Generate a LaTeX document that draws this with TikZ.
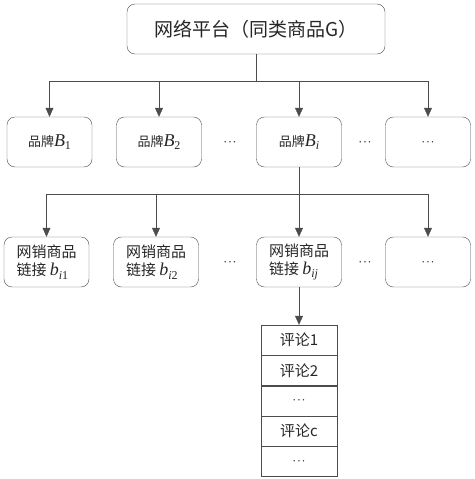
\documentclass[tikz,border=0pt]{standalone}
\usepackage{fontspec}
\setmainfont{Noto Sans CJK SC}
\newfontfamily\symfont{Liberation Serif}
\usetikzlibrary{arrows.meta,positioning}
\newcommand{\mth}[2]{{\symfont\fontsize{18}{20}\selectfont\itshape #1\raisebox{-3.5pt}{\fontsize{12}{14}\selectfont\upshape #2}}}
\newcommand{\dts}{{\fontsize{9}{11}\selectfont\boldmath$\cdots$}}
\begin{document}
\begin{tikzpicture}[x=1pt,y=-1pt,
        box/.style={draw=black!70,rounded corners=8pt,minimum width=85pt,minimum height=50pt,inner sep=2pt,text=black!85},
        arr/.style={draw=black!70,-{Triangle[length=9pt,width=8pt]}},
        cell/.style={draw=black!70,minimum width=76pt,minimum height=30pt,inner sep=0pt,text=black!85,font=\fontsize{15}{17}\selectfont},
        dots/.style={text=black!90}]
        \useasboundingbox (0,0) rectangle (474,479);
        % top
        \node[box,minimum width=258pt,font=\fontsize{19}{22}\selectfont] (net) at (256,29) {网络平台（同类商品G）};
        % brands
        \node[box,font=\fontsize{13}{15}\selectfont] (b1) at (49.5,142) {品牌\mth{B}{1}};
        \node[box,font=\fontsize{13}{15}\selectfont] (b2) at (159,142) {品牌\mth{B}{2}};
        \node[box,font=\fontsize{13}{15}\selectfont] (bi) at (299,142) {品牌\mth{B}{\itshape i}};
        \node[box] (bx) at (428,142) {\dts};
        \node[dots] at (230,142) {\dts};
        \node[dots] at (365,142) {\dts};
        % links
        \node[box,align=left,font=\fontsize{15}{18}\selectfont] (l1) at (46.5,262) {网销商品\\链接 \mth{b}{\textit{i}1}};
        \node[box,align=left,font=\fontsize{15}{18}\selectfont] (l2) at (156,262) {网销商品\\链接 \mth{b}{\textit{i}2}};
        \node[box,align=left,font=\fontsize{15}{18}\selectfont] (lj) at (299,262) {网销商品\\链接 \mth{b}{\textit{ij}}};
        \node[box] (lx) at (428,262) {\dts};
        \node[dots] at (230,262) {\dts};
        \node[dots] at (365,262) {\dts};
        % comments
        \node[cell] (c1) at (299,340) {评论1};
        \node[cell,below=0pt of c1] (c2) {评论2};
        \node[cell,below=0pt of c2] (c3) {\dts};
        \node[cell,below=0pt of c3] (c4) {评论c};
        \node[cell,below=0pt of c4] (c5) {\dts};
        % connectors
        \coordinate (j1) at (net.south |- 0,81);
        \draw[draw=black!70] (net.south) -- (j1);
        \foreach \n in {b1,b2,bi,bx}
          \draw[arr] (j1) -| (\n.north);
        \coordinate (j2) at (bi.south |- 0,194);
        \draw[draw=black!70] (bi.south) -- (j2);
        \foreach \n in {l1,l2,lj,lx}
          \draw[arr] (j2) -| (\n.north);
        \draw[arr] (lj.south) -- (c1.north);
\end{tikzpicture}
\end{document}
